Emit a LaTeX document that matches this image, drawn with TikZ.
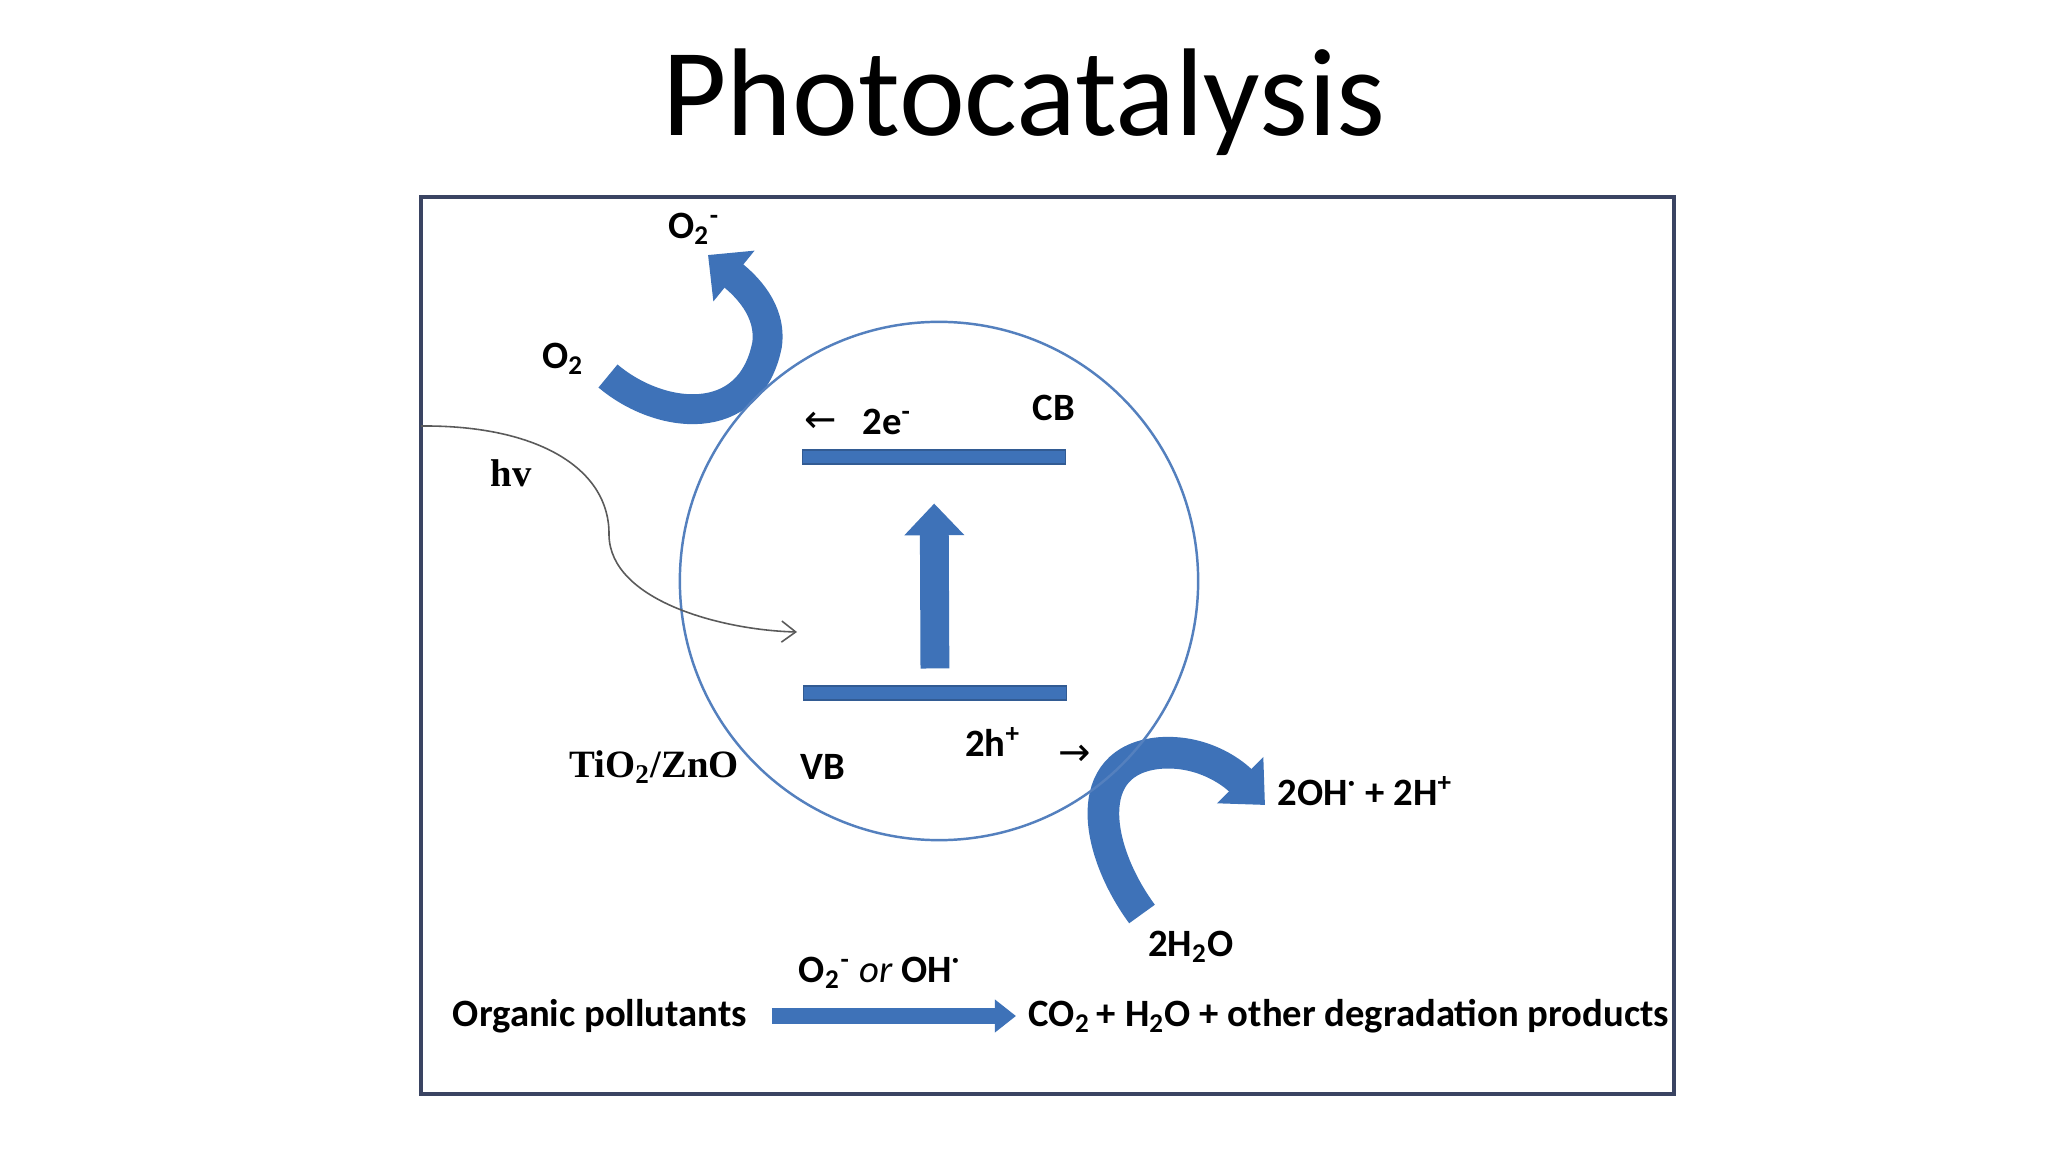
\documentclass[tikz,border=0pt]{standalone}
\usepackage{fontspec}
\setmainfont{Carlito}
\newfontfamily\timesfont{Liberation Serif}
\newfontfamily\arrowfont{DejaVu Sans}
\usetikzlibrary{arrows.meta}

\definecolor{bandblue}{RGB}{62,114,184}
\definecolor{ringblue}{RGB}{84,128,190}
\definecolor{framenavy}{RGB}{58,68,98}
\definecolor{waveg}{RGB}{90,90,90}

\tikzset{
  lbl/.style={font=\bfseries\fontsize{11}{13}\selectfont, inner sep=0pt, text=black},
  serlbl/.style={font=\timesfont\bfseries\fontsize{11}{13}\selectfont, inner sep=0pt},
  bandbar/.style={fill=bandblue, draw=bandblue!80!black, line width=0.3pt,
    minimum width=2.62cm, minimum height=0.14cm, inner sep=0pt},
  bigarrow/.style={bandblue, line width=8.5pt, -{Triangle[length=9.5pt,width=18pt]}},
}

\begin{document}
\begin{tikzpicture}[x=0.01cm, y=-0.01cm]
  \useasboundingbox[fill=white] (0,0) rectangle (2048,1152);

  \node (title) at (1024,102) {\fontsize{35.5}{42}\selectfont Photocatalysis};
  \draw[framenavy, line width=1pt] (421,197) rectangle (1674,1094);

  % curved arrows at the surface
  \draw[bigarrow] (608,376) .. controls (660,420) and (750,430) .. (767,345)
    .. controls (772,310) and (745,285) .. (708,255);
  \draw[bigarrow, line width=9pt, -{Triangle[length=10pt,width=18pt]}]
    (1142,914) .. controls (1095,850) and (1080,760) .. (1160,753)
    .. controls (1200,750) and (1230,770) .. (1265,805);

  % particle and bands
  \node[circle, draw=ringblue, line width=0.7pt, minimum size=5.18cm] (ring) at (939,581) {};
  \node[bandbar] (cb) at (934,457) {};
  \node[bandbar] (vb) at (935,693) {};
  \draw[bandblue, line width=8.2pt, -{Triangle[length=9pt,width=16.5pt]},
    shorten <=0.17cm, shorten >=0.39cm] (vb.north) -- (cb.south);

  % light
  \node[serlbl] (hv) at (511,473) {hv};
  \draw[waveg, line width=0.45pt, -{Straight Barb[length=4pt,width=6pt]}]
    (421,426) .. controls (540,425) and (610,470) .. (609,535)
    .. controls (610,600) and (720,630) .. (797,632);

  % labels
  \node[lbl] (o2m) at (694,229) {O\textsubscript{2}\textsuperscript{-}};
  \node[lbl] (o2) at (563,359) {O\textsubscript{2}};
  \node[lbl] (cblbl) at (1054,408) {CB};
  \node[font=\arrowfont\fontsize{11}{13}\selectfont, inner sep=0pt] (eleft) at (821,422) {←};
  \node[lbl] (elec) at (887,422) {2e\textsuperscript{-}};
  \node[lbl] (hole) at (993,742) {2h\textsuperscript{+}};
  \node[font=\arrowfont\fontsize{11}{13}\selectfont, inner sep=0pt] (hright) at (1075,755) {→};
  \node[lbl] (vblbl) at (823,767) {VB};
  \node[serlbl] (cat) at (654,767) {TiO\textsubscript{2}/ZnO};
  \node[lbl, anchor=west] (ohlbl) at (1277,791) {2OH\textsuperscript{·} + 2H\textsuperscript{+}};
  \node[lbl] (water) at (1191,947) {2H\textsubscript{2}O};

  % degradation
  \node[lbl] (org) at (600,1016) {Organic pollutants};
  \node[lbl, anchor=west] (prod) at (1028,1016)
    {CO\textsubscript{2}\,+ H\textsubscript{2}O + other degradation products};
  \draw[bandblue, line width=4.8pt, -{Triangle[length=6pt,width=9pt]},
    shorten <=0.24cm, shorten >=0.12cm] (org.east) -- (prod.west)
    node[midway, above=0.19cm, lbl, xshift=-0.08cm] (radicals)
      {O\textsubscript{2}\textsuperscript{-} {\mdseries\itshape or} OH\textsuperscript{·}};
\end{tikzpicture}
\end{document}
